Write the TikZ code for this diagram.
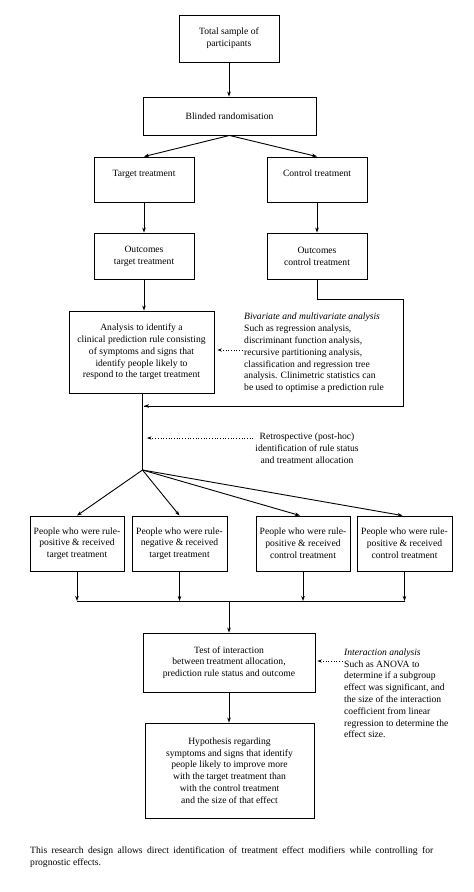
\documentclass[tikz,border=0pt]{standalone}
\usepackage{fontspec}
\setmainfont{Liberation Serif}
\usetikzlibrary{arrows.meta,calc}
\begin{document}
\begin{tikzpicture}[x=1pt,y=-1pt,
  txt/.style={font=\fontsize{9.6}{11.8}\selectfont},
  box/.style={draw, line width=0.9pt, inner sep=1pt, align=center, txt},
  arr/.style={-{Stealth[length=5pt,width=3.6pt]}, line width=0.9pt},
  ln/.style={line width=0.9pt},
  dotarr/.style={{Stealth[length=4.5pt,width=3.2pt]}-, dotted, line width=0.7pt}]
\fill[white] (0,0) rectangle (474,892);
\useasboundingbox (0,0) rectangle (474,892);
% main column
\node[box, minimum width=100pt, minimum height=47pt] (b1) at (229,38.5) {Total sample of\\participants};
\node[box, minimum width=173pt, minimum height=38pt] (b2) at (229.5,116) {Blinded randomisation};
\node[box, minimum width=100pt, minimum height=45pt] (b3) at (144,179.5) {Target treatment\\\mbox{}};
\node[box, minimum width=100pt, minimum height=45pt] (b4) at (317,179.5) {Control treatment\\\mbox{}};
\node[box, minimum width=100pt, minimum height=46pt] (b5) at (144,256) {Outcomes\\target treatment};
\node[box, minimum width=100pt, minimum height=46pt] (b6) at (317,256) {Outcomes\\control treatment};
\node[box, minimum width=145pt, minimum height=82pt] (b7) at (141.5,352) {Analysis to identify a\\clinical prediction rule consisting\\of symptoms and signs that\\identify people likely to\\respond to the target treatment};
% annotation 1
\node[txt, anchor=north west, align=left, inner sep=0pt] (biv) at (244,313) {\textit{Bivariate and multivariate analysis}\\Such as regression analysis,\\discriminant function analysis,\\recursive partitioning analysis,\\classification and regression tree\\analysis. Clinimetric statistics can\\be used to optimise a prediction rule};
\coordinate (d1s) at (242,350);
\draw[dotarr] ($(b7.east|-d1s)+(3,0)$) -- (d1s);
% control outcome feedback path
\coordinate (c1) at (b6.south|-0,299.5);
\coordinate (c2) at (403,299.5);
\coordinate (c3) at (403,406);
\coordinate (c4) at (144,406);
\draw[ln] (b6.south) -- (c1) -- (c2) -- (c3) -- (c4);
\draw[arr] (c3) -- (c4);
% retrospective
\coordinate (br) at (142.5,470);
\draw[ln] (b7.south-|br) -- (br);
\node[txt, align=center, inner sep=0pt] (retro) at (307,448) {Retrospective (post-hoc)\\identification of rule status\\and treatment allocation};
\coordinate (d2s) at (253,438);
\coordinate (d2e) at (147,438);
\draw[dotarr] (d2e) -- (d2s);
% four groups
\node[box, minimum width=94pt, minimum height=55pt] (ga) at (77,543.5) {People who were rule-\\positive \& received\\target treatment};
\node[box, minimum width=95pt, minimum height=55pt] (gb) at (179.5,543.5) {People who were rule-\\negative \& received\\target treatment};
\node[box, minimum width=94pt, minimum height=55pt] (gc) at (303,543.5) {People who were rule-\\positive \& received\\control treatment};
\node[box, minimum width=95pt, minimum height=55pt] (gd) at (404.5,543.5) {People who were rule-\\positive \& received\\control treatment};
\draw[arr] (br) -- (ga.north);
\draw[arr] (br) -- (gb.north);
\draw[arr] (br) -- ($(gc.north)+(-3,0)$);
\draw[arr] (br) -- ($(gd.north)+(-2,0)$);
\coordinate (hl) at (77,601);
\coordinate (hr) at (404.5,601);
\coordinate (hm) at (229,601);
\draw[arr] (ga.south) -- (ga.south|-hl);
\draw[arr] (gb.south) -- (gb.south|-hl);
\draw[arr] (gc.south) -- (gc.south|-hl);
\draw[arr] (gd.south) -- (gd.south|-hl);
\draw[ln] (hl) -- (hr);
% test
\node[box, minimum width=172pt, minimum height=59pt] (tst) at (229,662.5) {Test of interaction\\between treatment allocation,\\prediction rule status and outcome};
\draw[arr] (hm) -- (tst.north);
\node[txt, anchor=north west, align=left, inner sep=0pt] (ia) at (344,648.5) {\textit{Interaction analysis}\\Such as ANOVA to\\determine if a subgroup\\effect was significant, and\\the size of the interaction\\coefficient from linear\\regression to determine the\\effect size.};
\coordinate (d3s) at (343,661);
\draw[dotarr] ($(tst.east|-d3s)+(2,0)$) -- (d3s);
\node[box, minimum width=169pt, minimum height=95pt] (hyp) at (229.5,770.5) {Hypothesis regarding\\symptoms and signs that identify\\people likely to improve more\\with the target treatment than\\with the control treatment\\and the size of that effect};
\draw[arr] (tst.south) -- (tst.south|-hyp.north);
% arrows in upper part
\draw[arr] (b1.south) -- (b1.south|-b2.north);
\draw[arr] (b2.south) -- (b3.north);
\draw[arr] (b2.south) -- (b4.north);
\draw[arr] (b3.south) -- (b3.south|-b5.north);
\draw[arr] (b4.south) -- (b4.south|-b6.north);
\draw[arr] (b5.south) -- (b5.south|-b7.north);
% caption
\node[txt, anchor=north west, inner sep=0pt, text width=403pt, align=justify] (cap) at (30,847) {\hyphenpenalty=10000 This research design allows direct identification of treatment effect modifiers while controlling for\linebreak prognostic effects.};
\end{tikzpicture}
\end{document}
